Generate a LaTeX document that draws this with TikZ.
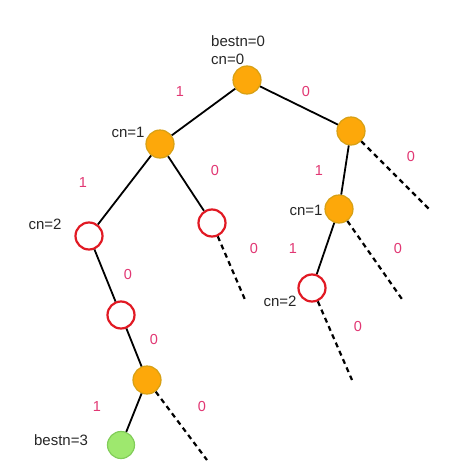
\documentclass[tikz,border=0pt]{standalone}
\usepackage{fontspec}
\setmainfont{Liberation Sans}
\definecolor{nodeorange}{RGB}{253,168,10}
\definecolor{orangeborder}{RGB}{215,160,20}
\definecolor{nodegreen}{RGB}{158,232,110}
\definecolor{greenborder}{RGB}{130,205,90}
\definecolor{bitpink}{RGB}{225,55,115}
\definecolor{nodered}{RGB}{225,25,35}
\begin{document}
\begin{tikzpicture}[x=1pt,y=-1pt,
  orangenode/.style={circle,minimum size=28pt,inner sep=0pt,fill=nodeorange,draw=orangeborder,line width=1.2pt},
  rednode/.style={circle,minimum size=27pt,inner sep=0pt,fill=white,draw=nodered,line width=2.2pt},
  greennode/.style={circle,minimum size=27pt,inner sep=0pt,fill=nodegreen,draw=greenborder,line width=1.2pt},
  edge/.style={line width=1.8pt,black},
  dashedge/.style={line width=2.2pt,black,dash pattern=on 5pt off 4pt},
  bit/.style={text=bitpink,font=\fontsize{14.5}{14.5}\selectfont},
  lab/.style={text=black!85,font=\fontsize{15}{16}\selectfont,inner sep=0pt}]
\useasboundingbox (0,0) rectangle (474,474);
% nodes
\node[orangenode] (r) at (247,80) {};
\node[orangenode] (a) at (160,144) {};
\node[orangenode] (b) at (351,131) {};
\node[rednode] (c) at (89,236) {};
\node[rednode] (d) at (212,223) {};
\node[orangenode] (e) at (339,209) {};
\node[rednode] (f) at (312,288) {};
\node[rednode] (g) at (121,315) {};
\node[orangenode] (h) at (147,380) {};
\node[greennode] (i) at (121,445) {};
% dashed ends
\coordinate (bd) at (430,210);
\coordinate (dd) at (246,302);
\coordinate (ed) at (404,302);
\coordinate (fd) at (352,380);
\coordinate (hd) at (207,460);
% solid edges
\draw[edge] (r) -- (a);
\draw[edge] (r) -- (b);
\draw[edge] (a) -- (c);
\draw[edge] (a) -- (d);
\draw[edge] (b) -- (e);
\draw[edge] (e) -- (f);
\draw[edge] (c) -- (g);
\draw[edge] (g) -- (h);
\draw[edge] (h) -- (i);
% dashed edges
\draw[dashedge] (b) -- (bd);
\draw[dashedge] (d) -- (dd);
\draw[dashedge] (e) -- (ed);
\draw[dashedge] (f) -- (fd);
\draw[dashedge] (h) -- (hd);
% bit labels
\node[bit] (l1) at (180,92) {1};
\node[bit] (l2) at (306,92) {0};
\node[bit] (l3) at (83,183) {1};
\node[bit] (l4) at (215,171) {0};
\node[bit] (l5) at (319,171) {1};
\node[bit] (l6) at (411,157) {0};
\node[bit] (l7) at (254,249) {0};
\node[bit] (l8) at (293,249) {1};
\node[bit] (l9) at (398,249) {0};
\node[bit] (l10) at (128,275) {0};
\node[bit] (l11) at (154,340) {0};
\node[bit] (l12) at (358,327) {0};
\node[bit] (l13) at (97,407) {1};
\node[bit] (l14) at (202,407) {0};
% text labels
\node[lab,anchor=west] (t1) at (211,41) {bestn=0};
\node[lab,anchor=west] (t2) at (211,59) {cn=0};
\node[lab] (t3) at (128,132) {cn=1};
\node[lab] (t4) at (45,224) {cn=2};
\node[lab] (t5) at (306,210) {cn=1};
\node[lab] (t6) at (280,301) {cn=2};
\node[lab] (t7) at (61,440) {bestn=3};
\end{tikzpicture}
\end{document}
